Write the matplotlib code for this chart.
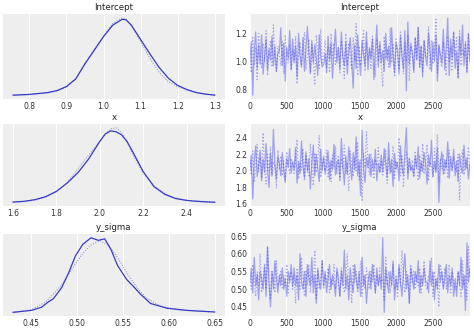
import numpy as np
import matplotlib.pyplot as plt

# posterior summary for three parameters, two chains each
params = ["Intercept", "x", "y_sigma"]

# KDE of each chain (grid, density)
kde_int_x0 = [0.756, 0.8, 0.85, 0.875, 0.9, 0.925, 0.95, 0.975, 1.0, 1.025, 1.05, 1.06,
              1.075, 1.1, 1.125, 1.15, 1.175, 1.2, 1.225, 1.25, 1.275, 1.3]
kde_int_d0 = [0.02, 0.07, 0.20, 0.34, 0.62, 1.15, 2.2, 3.15, 4.1, 4.9, 5.3, 5.28,
              4.9, 3.9, 2.9, 1.95, 1.2, 0.7, 0.40, 0.2, 0.09, 0.02]
kde_int_x1 = [0.76, 0.8, 0.85, 0.875, 0.9, 0.925, 0.95, 0.975, 1.0, 1.025, 1.05, 1.06,
              1.075, 1.1, 1.125, 1.15, 1.175, 1.2, 1.225, 1.25, 1.275, 1.3]
kde_int_d1 = [0.02, 0.06, 0.18, 0.32, 0.58, 1.15, 2.25, 3.2, 4.15, 5.0, 5.4, 5.35,
              4.85, 3.75, 2.6, 1.6, 0.95, 0.6, 0.42, 0.22, 0.1, 0.02]

kde_x_x = [1.6, 1.65, 1.7, 1.75, 1.8, 1.85, 1.9, 1.95, 2.0, 2.025, 2.05, 2.075,
           2.1, 2.125, 2.15, 2.2, 2.25, 2.3, 2.35, 2.4, 2.45, 2.5, 2.53]
kde_x_d0 = [0.01, 0.04, 0.11, 0.24, 0.47, 0.83, 1.28, 1.88, 2.62, 2.93, 3.07, 3.03,
            2.9, 2.62, 2.2, 1.32, 0.67, 0.34, 0.16, 0.08, 0.04, 0.013, 0.0]
kde_x_d1 = [0.01, 0.03, 0.09, 0.21, 0.44, 0.86, 1.45, 2.05, 2.6, 2.95, 3.15, 3.2,
            3.0, 2.6, 2.1, 1.25, 0.7, 0.37, 0.18, 0.09, 0.045, 0.015, 0.0]

kde_sig_x0 = [0.430, 0.450, 0.461, 0.4685, 0.474, 0.483, 0.491, 0.498, 0.506, 0.515,
              0.523, 0.530, 0.537, 0.544, 0.554, 0.561, 0.569, 0.580, 0.598, 0.620, 0.650]
kde_sig_d0 = [0.0, 0.38, 1.0, 2.07, 2.7, 4.9, 8.0, 11.2, 13.5, 14.8,
              14.3, 14.6, 12.4, 9.3, 6.5, 5.2, 3.6, 1.75, 0.8, 0.38, 0.06]
kde_sig_x1 = [0.432, 0.450, 0.465, 0.475, 0.485, 0.495, 0.505, 0.515, 0.525,
              0.535, 0.545, 0.555, 0.565, 0.575, 0.590, 0.610, 0.645]
kde_sig_d1 = [0.0, 0.5, 2.0, 3.8, 6.0, 8.8, 11.5, 13.4, 14.2,
              13.2, 10.6, 7.6, 4.9, 2.9, 1.3, 0.5, 0.05]

# thinned draws of each chain (every 20th draw)
trace_int0 = [0.99, 1.14, 0.76, 1.08, 1.21, 0.95, 1.12, 0.98, 1.19, 0.91,
              1.03, 1.16, 0.94, 1.09, 1.01, 1.18, 0.97, 1.11, 0.93, 1.06,
              1.07, 1.24, 0.97, 1.13, 0.86, 1.10, 1.02, 1.22, 0.94, 1.16,
              1.00, 1.11, 0.89, 1.20, 1.04, 0.96, 1.17, 0.93, 1.09, 1.25,
              1.05, 0.92, 1.15, 0.99, 1.12, 1.02, 0.90, 1.19, 1.04, 0.96,
              0.98, 1.06, 0.92, 1.18, 1.01, 1.13, 0.88, 1.08, 1.23, 0.99,
              1.10, 0.95, 1.21, 1.03, 0.97, 1.14, 0.91, 1.07, 1.17, 1.00,
              0.81, 1.12, 0.95, 1.19, 1.03, 0.90, 1.15, 1.05, 0.97, 1.21,
              0.94, 1.10, 1.02, 1.16, 0.87, 1.07, 1.26, 0.96, 1.14, 0.99,
              1.08, 0.93, 1.20, 1.01, 1.11, 0.96, 1.24, 1.04, 0.92, 1.13,
              1.09, 0.91, 1.18, 1.04, 0.95, 1.22, 0.79, 1.28, 0.98, 1.13,
              1.06, 0.92, 1.17, 1.01, 1.24, 0.96, 1.11, 0.89, 1.15, 1.03,
              0.97, 1.20, 1.08, 0.93, 1.14, 1.00, 1.19, 0.86, 1.12, 1.05,
              0.99, 1.23, 0.94, 1.10, 1.31, 0.90, 1.16, 1.02, 1.21, 0.95,
              1.07, 0.88, 1.18, 1.04, 1.26, 0.97, 1.13, 0.92, 1.20, 1.00]
trace_int1 = [1.03, 0.92, 1.17, 0.98, 1.10, 0.87, 1.20, 1.05, 0.95, 1.13,
              1.00, 1.22, 0.90, 1.08, 1.15, 0.96, 1.26, 1.02, 0.93, 1.11,
              1.06, 0.97, 1.14, 0.91, 1.19, 1.03, 0.99, 1.12, 0.94, 1.08,
              0.99, 1.18, 0.84, 1.06, 1.14, 0.97, 1.09, 1.21, 0.94, 1.04,
              1.16, 0.91, 1.12, 1.01, 0.83, 1.19, 1.07, 0.95, 1.23, 0.99,
              1.04, 1.15, 0.96, 1.10, 0.92, 1.20, 1.02, 1.13, 0.98, 1.07,
              1.10, 0.92, 1.15, 1.03, 0.88, 1.20, 0.98, 1.13, 1.05, 0.94,
              1.17, 1.00, 1.27, 0.90, 1.11, 0.97, 1.08, 1.22, 0.93, 1.14,
              1.01, 1.09, 0.95, 1.18, 1.06, 0.89, 1.16, 1.00, 1.12, 0.97,
              0.82, 1.18, 1.02, 1.09, 0.96, 1.24, 0.99, 1.12, 0.89, 1.16,
              1.04, 0.95, 1.21, 1.06, 0.91, 1.13, 1.00, 1.19, 0.86, 1.10,
              1.08, 0.94, 1.17, 1.02, 1.25, 0.96, 1.11, 0.93, 1.15, 1.03,
              1.03, 1.25, 0.94, 1.15, 0.98, 1.08, 1.30, 0.92, 1.11, 1.01,
              0.96, 1.14, 1.05, 0.90, 1.18, 1.00, 1.10, 0.93, 1.21, 1.04,
              1.17, 0.88, 1.22, 0.97, 1.09, 1.04, 1.14, 0.93, 1.19, 1.02]

trace_x0 = [2.01, 2.19, 1.66, 2.12, 2.30, 1.93, 2.08, 2.25, 1.88, 2.14,
            1.98, 2.33, 2.04, 1.80, 2.21, 1.95, 2.50, 2.07, 1.90, 2.17,
            2.09, 1.94, 2.22, 2.00, 1.86, 2.15, 2.05, 2.27, 1.97, 2.11,
            2.02, 2.28, 1.85, 2.11, 1.97, 2.36, 2.05, 1.92, 2.23, 1.99,
            2.15, 1.78, 2.09, 2.31, 1.94, 2.20, 2.03, 1.87, 2.26, 2.00,
            2.18, 1.96, 2.07, 2.24, 1.89, 2.13, 2.01, 2.32, 1.95, 2.10,
            2.13, 1.91, 2.39, 2.06, 1.83, 2.18, 1.96, 2.29, 2.08, 1.89,
            2.22, 2.01, 2.41, 1.94, 2.12, 1.70, 2.49, 2.04, 1.86, 2.16,
            2.04, 2.20, 1.93, 2.14, 2.00, 2.26, 1.88, 2.09, 1.98, 2.19,
            1.99, 2.27, 2.07, 1.92, 2.34, 1.97, 2.14, 1.81, 2.21, 2.02,
            2.10, 1.88, 2.30, 2.05, 1.95, 2.24, 2.52, 1.90, 2.15, 2.00,
            2.06, 1.94, 2.17, 2.03, 2.29, 1.91, 2.11, 1.99, 2.22, 2.08,
            1.84, 2.19, 2.06, 2.37, 1.93, 2.11, 1.98, 2.28, 1.62, 2.09,
            2.23, 1.96, 2.13, 2.03, 2.35, 1.91, 2.17, 2.01, 2.26, 1.94,
            2.12, 1.87, 2.20, 2.05, 1.97, 2.31, 2.02, 2.16, 1.90, 2.08]
trace_x1 = [2.10, 1.95, 2.24, 1.86, 2.07, 2.32, 1.99, 2.16, 1.91, 2.46,
            2.03, 1.84, 2.20, 2.00, 2.29, 1.93, 2.11, 2.06, 1.79, 2.25,
            2.01, 2.18, 1.94, 2.12, 1.89, 2.23, 2.05, 1.97, 2.15, 2.08,
            1.97, 2.14, 2.38, 1.90, 2.09, 2.01, 2.27, 1.88, 2.18, 2.04,
            1.94, 2.33, 2.08, 1.82, 2.22, 1.98, 2.12, 2.43, 1.92, 2.05,
            2.16, 2.00, 2.25, 1.93, 2.10, 1.87, 2.19, 2.04, 2.30, 1.96,
            2.19, 1.87, 2.15, 2.02, 2.31, 1.96, 2.10, 1.76, 2.24, 2.07,
            1.93, 2.17, 2.00, 2.35, 1.89, 2.13, 1.63, 2.21, 2.04, 2.47,
            2.09, 1.95, 2.21, 2.03, 1.90, 2.14, 2.06, 2.28, 1.98, 2.11,
            1.95, 2.09, 2.26, 1.85, 2.16, 2.03, 1.98, 2.30, 1.91, 2.12,
            2.06, 2.40, 1.94, 2.18, 1.80, 2.08, 2.23, 1.97, 2.14, 2.01,
            2.13, 1.92, 2.24, 2.05, 1.88, 2.19, 2.00, 2.33, 1.96, 2.10,
            2.32, 1.88, 2.11, 2.05, 1.92, 2.27, 2.00, 2.44, 1.86, 2.15,
            2.02, 2.20, 1.97, 2.13, 1.91, 2.25, 2.07, 1.99, 2.17, 2.04,
            1.99, 2.20, 1.65, 2.09, 2.25, 1.95, 2.13, 2.02, 2.29, 2.06]

trace_sig0 = [0.52, 0.56, 0.49, 0.59, 0.51, 0.54, 0.47, 0.55, 0.53, 0.50,
              0.57, 0.48, 0.62, 0.52, 0.45, 0.55, 0.50, 0.58, 0.53, 0.49,
              0.54, 0.51, 0.56, 0.50, 0.53, 0.48, 0.55, 0.52, 0.57, 0.51,
              0.56, 0.51, 0.54, 0.47, 0.60, 0.52, 0.50, 0.55, 0.48, 0.57,
              0.53, 0.51, 0.59, 0.49, 0.54, 0.46, 0.56, 0.52, 0.50, 0.58,
              0.51, 0.55, 0.49, 0.53, 0.57, 0.50, 0.54, 0.52, 0.48, 0.56,
              0.53, 0.48, 0.55, 0.51, 0.61, 0.50, 0.54, 0.47, 0.56, 0.52,
              0.49, 0.57, 0.53, 0.50, 0.55, 0.48, 0.59, 0.51, 0.54, 0.46,
              0.52, 0.55, 0.50, 0.57, 0.53, 0.49, 0.56, 0.51, 0.54, 0.50,
              0.645, 0.435, 0.56, 0.52, 0.49, 0.55, 0.51, 0.58, 0.47, 0.53,
              0.50, 0.57, 0.52, 0.48, 0.55, 0.60, 0.50, 0.54, 0.46, 0.56,
              0.53, 0.50, 0.55, 0.52, 0.58, 0.49, 0.54, 0.51, 0.56, 0.52,
              0.52, 0.49, 0.58, 0.51, 0.55, 0.47, 0.53, 0.50, 0.57, 0.52,
              0.55, 0.50, 0.53, 0.57, 0.49, 0.54, 0.51, 0.56, 0.48, 0.53,
              0.48, 0.55, 0.51, 0.59, 0.50, 0.54, 0.44, 0.63, 0.52, 0.56]
trace_sig1 = [0.54, 0.50, 0.57, 0.52, 0.48, 0.55, 0.51, 0.60, 0.49, 0.53,
              0.56, 0.50, 0.62, 0.52, 0.47, 0.55, 0.53, 0.49, 0.58, 0.51,
              0.52, 0.55, 0.50, 0.54, 0.51, 0.57, 0.49, 0.53, 0.55, 0.50,
              0.54, 0.46, 0.56, 0.52, 0.50, 0.59, 0.53, 0.48, 0.55, 0.51,
              0.57, 0.49, 0.54, 0.52, 0.61, 0.47, 0.55, 0.50, 0.53, 0.58,
              0.50, 0.54, 0.52, 0.56, 0.49, 0.53, 0.51, 0.57, 0.50, 0.55,
              0.51, 0.48, 0.56, 0.52, 0.49, 0.54, 0.60, 0.50, 0.53, 0.46,
              0.57, 0.52, 0.55, 0.49, 0.51, 0.58, 0.48, 0.54, 0.50, 0.56,
              0.53, 0.50, 0.55, 0.52, 0.57, 0.49, 0.54, 0.51, 0.56, 0.52,
              0.53, 0.47, 0.59, 0.51, 0.55, 0.49, 0.52, 0.57, 0.50, 0.54,
              0.48, 0.56, 0.51, 0.61, 0.53, 0.49, 0.55, 0.52, 0.46, 0.57,
              0.52, 0.55, 0.50, 0.54, 0.51, 0.56, 0.49, 0.53, 0.58, 0.51,
              0.50, 0.54, 0.52, 0.59, 0.48, 0.55, 0.51, 0.53, 0.45, 0.57,
              0.54, 0.51, 0.56, 0.50, 0.53, 0.57, 0.49, 0.55, 0.52, 0.50,
              0.50, 0.55, 0.52, 0.48, 0.58, 0.51, 0.54, 0.47, 0.62, 0.53]

n_draws = 3000
kde_ticks = [[0.8, 0.9, 1.0, 1.1, 1.2, 1.3],
             [1.6, 1.8, 2.0, 2.2, 2.4],
             [0.45, 0.50, 0.55, 0.60, 0.65]]
kde_ticklabels = [["0.8", "0.9", "1.0", "1.1", "1.2", "1.3"],
                  ["1.6", "1.8", "2.0", "2.2", "2.4"],
                  ["0.45", "0.50", "0.55", "0.60", "0.65"]]
trace_yticks = [[0.8, 1.0, 1.2],
                [1.6, 1.8, 2.0, 2.2, 2.4],
                [0.45, 0.50, 0.55, 0.60, 0.65]]
trace_yticklabels = [["0.8", "1.0", "1.2"],
                     ["1.6", "1.8", "2.0", "2.2", "2.4"],
                     ["0.45", "0.50", "0.55", "0.60", "0.65"]]
draw_ticks = [0, 500, 1000, 1500, 2000, 2500]

kdes = [[(kde_int_x0, kde_int_d0), (kde_int_x1, kde_int_d1)],
        [(kde_x_x, kde_x_d0), (kde_x_x, kde_x_d1)],
        [(kde_sig_x0, kde_sig_d0), (kde_sig_x1, kde_sig_d1)]]
traces = [[trace_int0, trace_int1], [trace_x0, trace_x1], [trace_sig0, trace_sig1]]

color = "#2a2eec"
kde_color = "#3a3ac4"
styles = ["-", ":"]

fig = plt.figure(figsize=(4.74, 3.33), dpi=100)
fig.patch.set_facecolor("white")

rows = [(0.7027, 0.255), (0.3814, 0.246), (0.051, 0.246)]


def style_ax(ax):
    ax.set_facecolor("#eeeeee")
    for s in ax.spines.values():
        s.set_visible(False)
    ax.grid(True, axis="x", color="white", linewidth=0.8)
    ax.set_axisbelow(True)
    ax.tick_params(length=0, labelsize=5.5, pad=2, colors="#333333")


for i, name in enumerate(params):
    bottom, height = rows[i]

    # density
    ax = fig.add_axes([0.0063, bottom, 0.468, height])
    style_ax(ax)
    for j, (xs, ds) in enumerate(kdes[i]):
        ax.plot(xs, ds, color=kde_color, ls=styles[j],
                lw=0.9 if j == 0 else 0.7, alpha=1.0 if j == 0 else 0.6)
    ax.set_yticks([])
    ax.set_xticks(kde_ticks[i])
    ax.set_xticklabels(kde_ticklabels[i])
    ax.set_title(name, fontsize=6.2, pad=3, color="#222222")

    # trace
    ax = fig.add_axes([0.527, bottom, 0.4645, height])
    style_ax(ax)
    for j, vals in enumerate(traces[i]):
        draws = np.linspace(0, n_draws - 1, len(vals))
        ax.plot(draws, vals, color=color, ls=styles[j], lw=0.9, alpha=0.4)
    ax.set_xlim(0, n_draws)
    ax.set_xticks(draw_ticks)
    ax.set_yticks(trace_yticks[i])
    ax.set_yticklabels(trace_yticklabels[i])
    ax.set_title(name, fontsize=6.2, pad=3, color="#222222")

fig.savefig("out.png", dpi=100)
